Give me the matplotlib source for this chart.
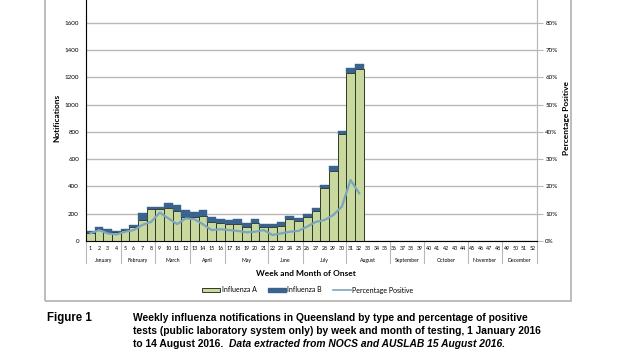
import matplotlib.pyplot as plt
from matplotlib.patches import Rectangle, Patch
from matplotlib.lines import Line2D
import numpy as np

# weekly notifications, weeks 1-32 of 2016
weeks = list(range(1, 53))
flu_a = [62, 90, 68, 64, 80, 103, 154, 235, 232, 245, 220, 178, 174, 183, 139, 135,
         125, 127, 105, 135, 100, 100, 110, 159, 149, 176, 220, 387, 516, 783, 1231, 1262]
flu_b = [12, 15, 18, 12, 8, 14, 54, 17, 15, 36, 44, 49, 39, 42, 37, 24,
         32, 37, 25, 29, 25, 22, 27, 24, 20, 20, 20, 24, 32, 27, 39, 37]
pct_pos = [2.8, 4.0, 2.8, 2.4, 3.4, 4.0, 5.9, 7.0, 10.4, 8.3, 6.2, 8.3, 8.0, 6.1, 4.0, 4.3,
           4.0, 3.7, 3.2, 3.4, 4.0, 2.2, 2.8, 3.4, 3.7, 5.3, 7.0, 7.7, 9.5, 12.6, 22.4, 17.5]
months = ["January", "February", "March", "April", "May", "June", "July",
          "August", "September", "October", "November", "December"]
month_weeks = [4, 4, 4, 4, 5, 4, 5, 5, 4, 5, 4, 4]

green = "#c8d89e"
blue = "#3b6390"
edge = "#2f3a24"
line_col = "#7ba6bf"
grid_col = "#b8b8b8"
font = "Lato"

fig = plt.figure(figsize=(6.2, 3.49), dpi=100)
W, H = 620, 349

# outer grey frame of the chart box
fig.patches.append(Rectangle((45 / W, 1 - 301 / H), (571 - 45) / W, 301 / H + 0.05,
                             transform=fig.transFigure, fill=False, edgecolor="#b0b0b0",
                             linewidth=1.2))

ax = fig.add_axes([86 / W, 1 - 241 / H, (537 - 86) / W, 245.3 / H])
n = len(flu_a)
x = np.arange(1, n + 1)
ax.bar(x, flu_a, width=1.0, color=green, edgecolor=edge, linewidth=0.7, zorder=3)
ax.bar(x, flu_b, bottom=flu_a, width=1.0, color=blue, edgecolor=blue, linewidth=0.3, zorder=3)

ax.set_xlim(0.5, 52.5)
ax.set_ylim(0, 1800)
ax.set_yticks(range(0, 1801, 200))
ax.set_yticklabels([str(v) for v in range(0, 1601, 200)] + [""], fontsize=4.5, family=font)
ax.yaxis.grid(True, color=grid_col, linewidth=1.0, zorder=0)
ax.tick_params(axis="y", length=0, pad=5)
ax.set_xticks([])
ax.spines["top"].set_visible(False)
ax.spines["left"].set_color(grid_col)
ax.spines["right"].set_color(grid_col)
ax.spines["bottom"].set_color(grid_col)
ax.set_ylabel("Notifications", fontsize=6, family=font, fontweight="bold", labelpad=3)

ax2 = ax.twinx()
ax2.plot(x, pct_pos, color=line_col, linewidth=1.6, zorder=4)
ax2.set_ylim(0, 90)
ax2.set_yticks(range(0, 91, 10))
ax2.set_yticklabels([f"{v}%" for v in range(0, 81, 10)] + [""], fontsize=4.5, family=font)
ax2.tick_params(axis="y", length=4, color=grid_col, pad=2)
ax2.spines["top"].set_visible(False)
ax2.spines["right"].set_color(grid_col)
ax2.set_ylabel("Percentage Positive", fontsize=6, family=font, fontweight="bold", labelpad=4)

# week numbers and month labels
for w in weeks:
    ax.text(w, -0.02, str(w), transform=ax.get_xaxis_transform(), ha="center", va="top",
            fontsize=3.8, family=font)
start = 0.5
bounds = [start]
for m, k in zip(months, month_weeks):
    ax.text(start + k / 2, -0.068, m, transform=ax.get_xaxis_transform(), ha="center",
            va="top", fontsize=3.7, family=font)
    start += k
    bounds.append(start)
for b in bounds:
    ax.plot([b, b], [0, -0.09], transform=ax.get_xaxis_transform(), color=grid_col,
            linewidth=0.8, clip_on=False)

fig.text(306 / W, 1 - 274 / H, "Week and Month of Onset", ha="center", va="center",
         fontsize=6, family=font, fontweight="bold")

handles = [Patch(facecolor=green, edgecolor=edge, linewidth=0.7),
           Patch(facecolor=blue, edgecolor=blue),
           Line2D([0], [0], color=line_col, linewidth=1.2)]
fig.legend(handles, ["Influenza A", "Influenza B", "Percentage Positive"], loc="center",
           bbox_to_anchor=(308 / W, 1 - 290 / H), ncol=3, frameon=False,
           prop={"family": font, "size": 5}, handlelength=2.6, handleheight=0.6,
           columnspacing=1.6, handletextpad=0.2)

cap = "Liberation Sans"
fs = 7.4
fig.text(47 / W, 1 - 318 / H, "Figure 1", fontsize=8.3, family=cap, fontweight="bold",
         va="center")
fig.text(133 / W, 1 - 318 / H,
         "Weekly influenza notifications in Queensland by type and percentage of positive",
         fontsize=fs, family=cap, fontweight="bold", va="center")
fig.text(133 / W, 1 - 331 / H,
         "tests (public laboratory system only) by week and month of testing, 1 January 2016",
         fontsize=fs, family=cap, fontweight="bold", va="center")
t1 = fig.text(133 / W, 1 - 344 / H, "to 14 August 2016.  ", fontsize=fs, family=cap,
              fontweight="bold", va="center")
fig.canvas.draw()
bb = t1.get_window_extent()
fig.text(bb.x1 / W, 1 - 344 / H, "Data extracted from NOCS and AUSLAB 15 August 2016.",
         fontsize=fs, family=cap, fontweight="bold", style="italic", va="center")

fig.savefig("out.png", dpi=100)
